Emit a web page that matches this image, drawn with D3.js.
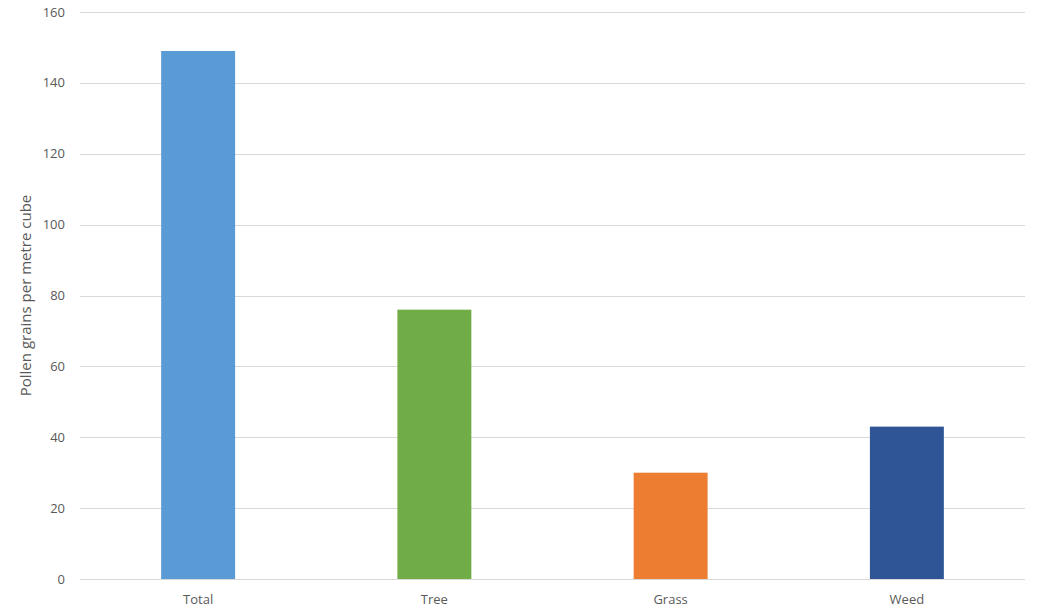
<!DOCTYPE html>
<html>
<head>
<meta charset="utf-8">
<script src="https://cdn.jsdelivr.net/npm/d3@7"></script>
<style>
  html, body { margin: 0; padding: 0; background: #fff; }
  svg { display: block; }
</style>
</head>
<body>
<div id="chart"></div>
<script>
const categories = ['Total', 'Tree', 'Grass', 'Weed'];
const values = [149, 76, 30, 43];
const colors = ['#5B9BD5', '#70AD47', '#ED7D31', '#2F5597'];
const yTicks = [0, 20, 40, 60, 80, 100, 120, 140, 160];
const yTitle = 'Pollen grains per metre cube';

const width = 1040, height = 616;
const margin = {top: 12, right: 15, bottom: 37, left: 80};

const svg = d3.select('#chart').append('svg')
    .attr('width', width)
    .attr('height', height)
    .attr('viewBox', `0 0 ${width} ${height}`);

const x = d3.scaleBand()
    .domain(categories)
    .range([margin.left, width - margin.right])
    .paddingInner(0.687)
    .paddingOuter(0.3435);

const y = d3.scaleLinear()
    .domain([0, 160])
    .range([height - margin.bottom, margin.top]);

// gridlines
svg.append('g')
    .selectAll('line')
    .data(yTicks)
    .enter().append('line')
    .attr('x1', margin.left)
    .attr('x2', width - margin.right)
    .attr('y1', d => Math.round(y(d)) + 0.5)
    .attr('y2', d => Math.round(y(d)) + 0.5)
    .attr('stroke', '#d9d9d9')
    .attr('stroke-width', 1);

// y tick labels
svg.append('g')
    .selectAll('text')
    .data(yTicks)
    .enter().append('text')
    .attr('x', 65)
    .attr('y', d => y(d))
    .attr('dy', '0.35em')
    .attr('text-anchor', 'end')
    .attr('fill', '#595959')
    .style('font-family', 'Open Sans, sans-serif')
    .style('font-size', '13px')
    .text(d => d);

// bars
svg.append('g')
    .selectAll('rect')
    .data(values)
    .enter().append('rect')
    .attr('x', (d, i) => x(categories[i]))
    .attr('y', d => y(d))
    .attr('width', x.bandwidth())
    .attr('height', d => y(0) - y(d))
    .attr('fill', (d, i) => colors[i]);

// category labels
svg.append('g')
    .selectAll('text')
    .data(categories)
    .enter().append('text')
    .attr('x', d => x(d) + x.bandwidth() / 2)
    .attr('y', 599)
    .attr('dy', '0.35em')
    .attr('text-anchor', 'middle')
    .attr('fill', '#595959')
    .style('font-family', 'Open Sans, sans-serif')
    .style('font-size', '13px')
    .text(d => d);

// y axis title
svg.append('text')
    .attr('transform', `translate(26, ${(y(0) + y(160)) / 2}) rotate(-90)`)
    .attr('text-anchor', 'middle')
    .attr('dy', '0.35em')
    .attr('fill', '#595959')
    .style('font-family', 'Open Sans, sans-serif')
    .style('font-size', '15px')
    .text(yTitle);
</script>
</body>
</html>
